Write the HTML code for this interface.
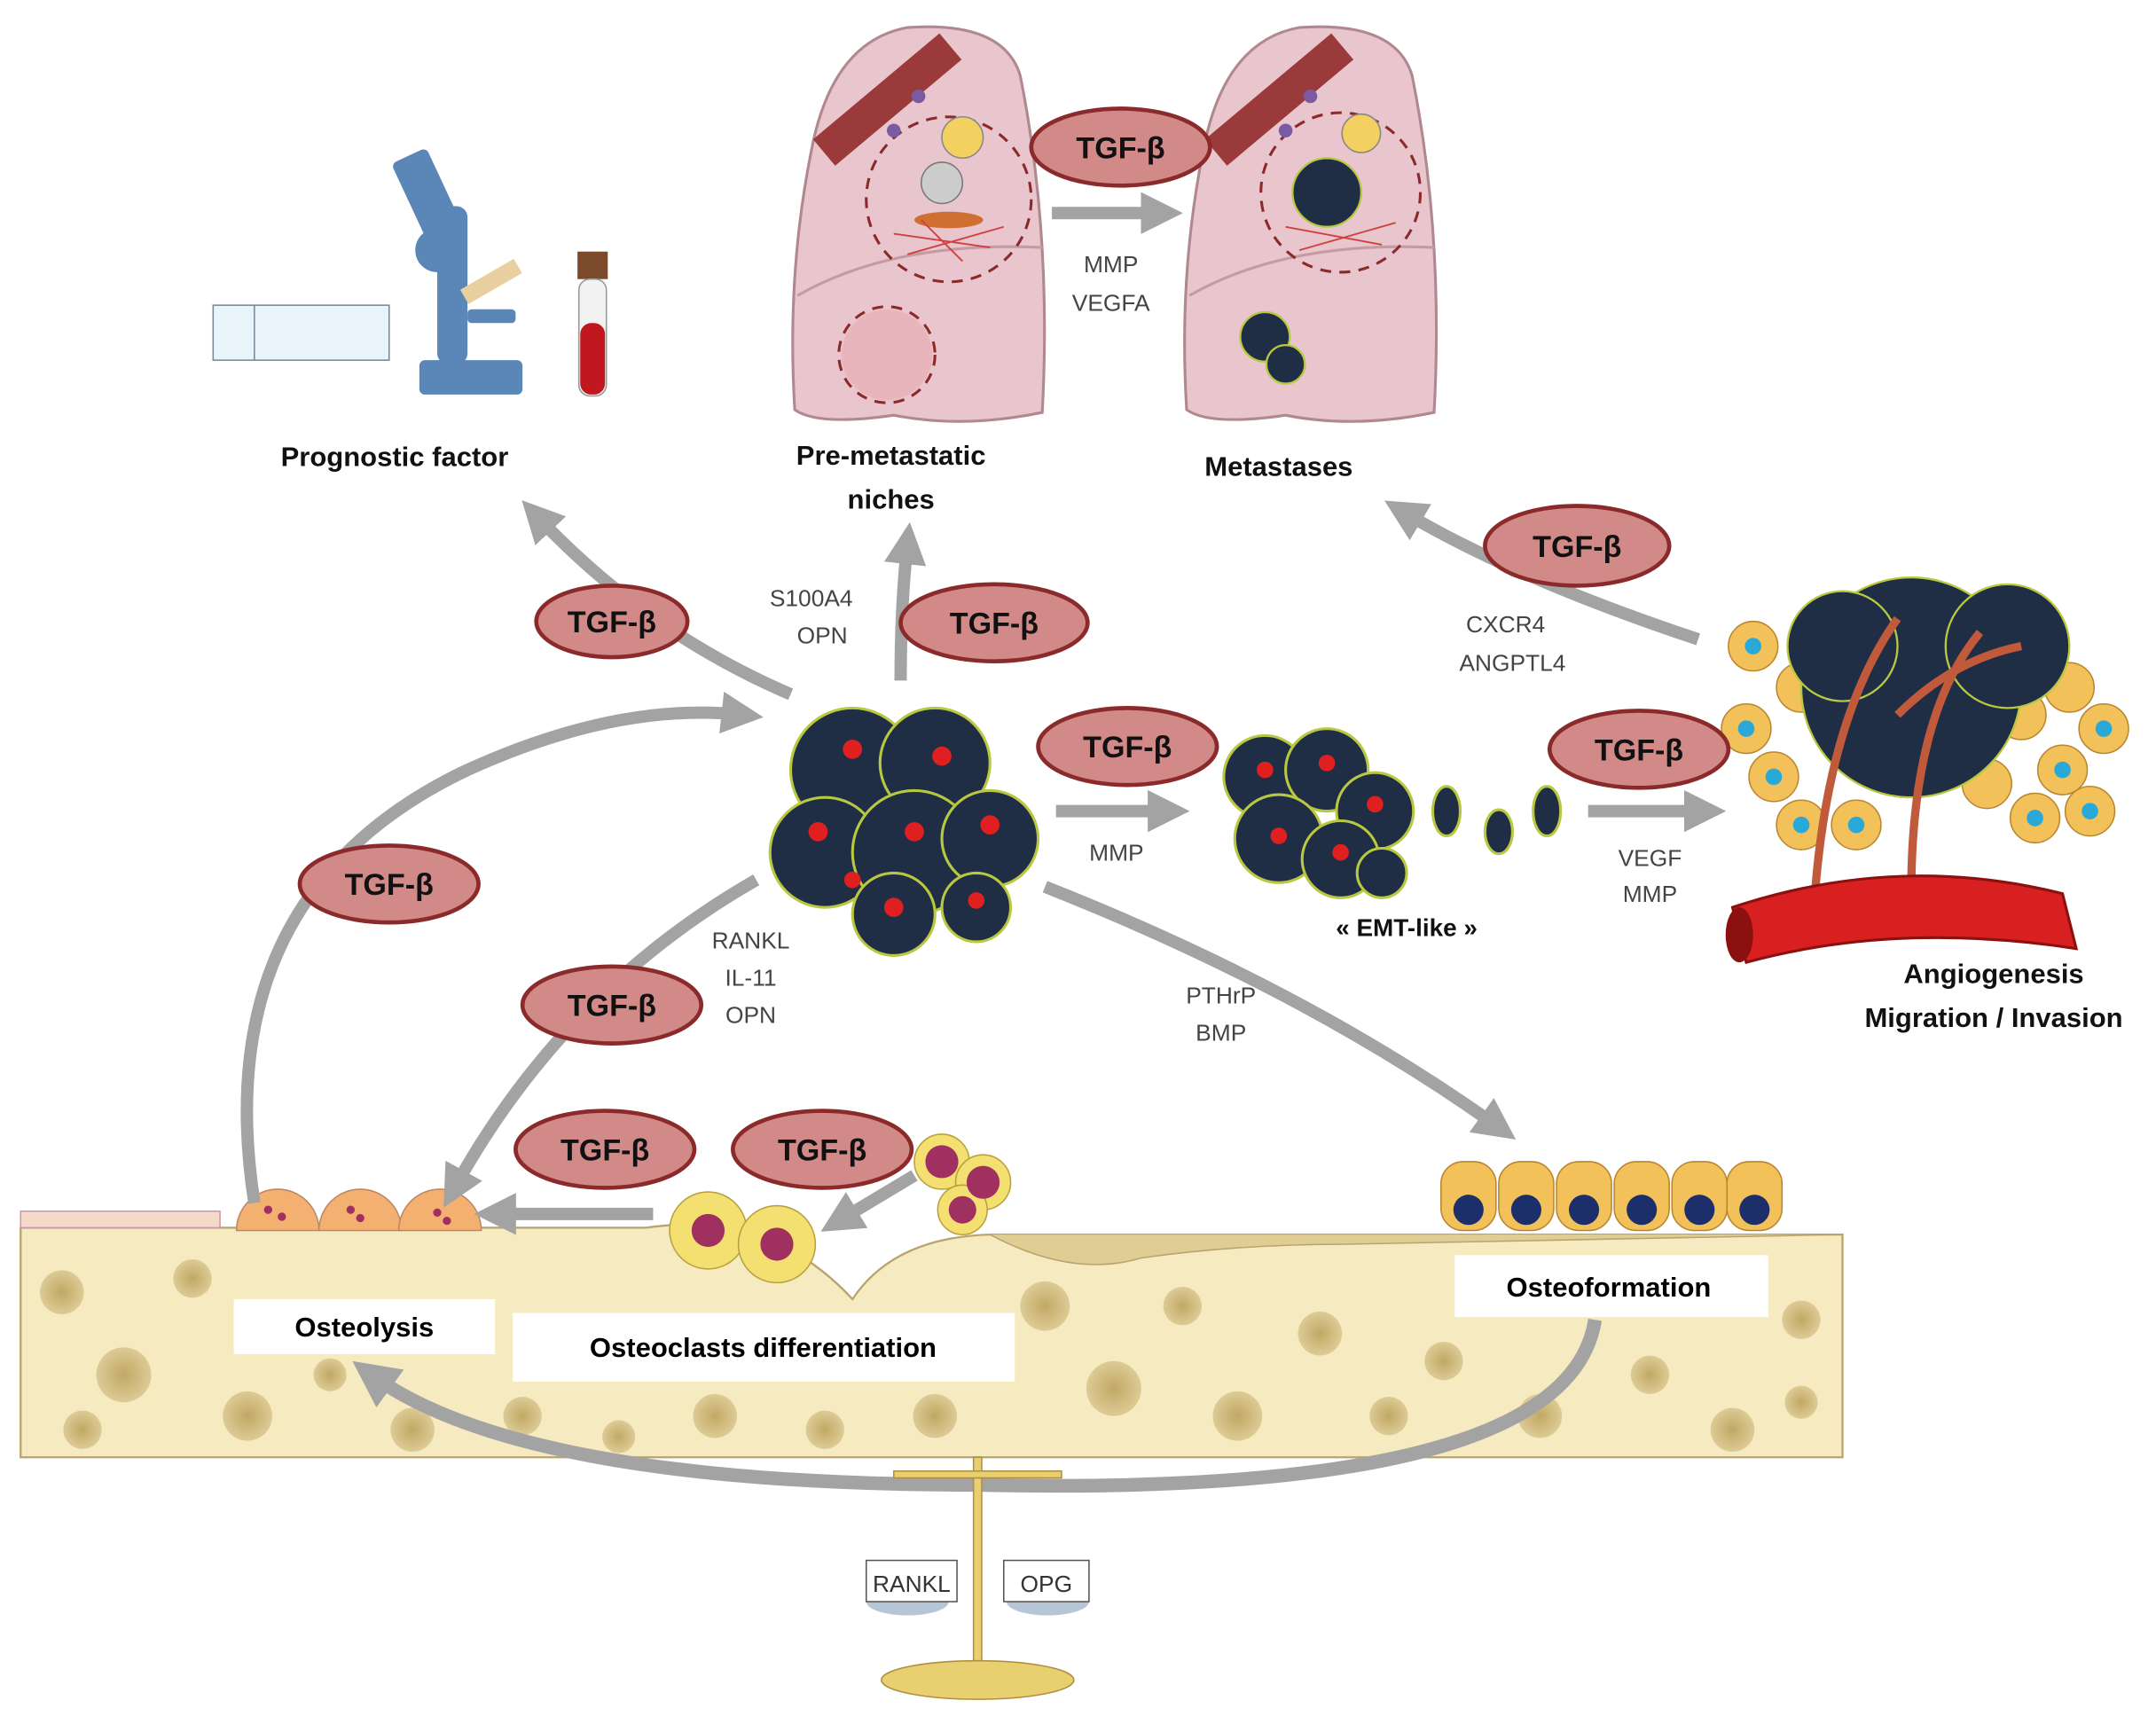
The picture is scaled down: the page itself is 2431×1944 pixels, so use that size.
<!DOCTYPE html>
<html><head><meta charset="utf-8"><style>html,body{margin:0;padding:0;background:#fff}svg{display:block}</style></head>
<body>
<svg width="2431" height="1944" viewBox="0 0 1568 1254" preserveAspectRatio="none" xmlns="http://www.w3.org/2000/svg" font-family="Liberation Sans, sans-serif">
<defs>
<marker id="ah" viewBox="0 0 10 10" refX="5" refY="5" markerWidth="3.4" markerHeight="3.4" orient="auto"><path d="M0,0L10,5L0,10z" fill="#a3a3a3"/></marker>
<radialGradient id="spot"><stop offset="0" stop-color="#b89c55"/><stop offset="1" stop-color="#d9c68e"/></radialGradient>
</defs>
<!-- bone -->
<path d="M15,893 L470,893 Q560,880 620,945 Q650,900 720,898 L1340,898 L1340,1060 L15,1060 Z" fill="#f6ebc0" stroke="#b9a470" stroke-width="1.5"/>
<path d="M720,898 Q780,930 830,915 Q900,905 980,905 L1340,898" fill="#e0cd93" stroke="#b9a470"/>
<g fill="url(#spot)" opacity="0.85">
<circle cx="45" cy="940" r="16"/><circle cx="90" cy="1000" r="20"/><circle cx="140" cy="930" r="14"/><circle cx="60" cy="1040" r="14"/><circle cx="180" cy="1030" r="18"/><circle cx="240" cy="1000" r="12"/><circle cx="300" cy="1040" r="16"/><circle cx="380" cy="1030" r="14"/><circle cx="450" cy="1045" r="12"/><circle cx="520" cy="1030" r="16"/><circle cx="600" cy="1040" r="14"/><circle cx="680" cy="1030" r="16"/><circle cx="760" cy="950" r="18"/><circle cx="810" cy="1010" r="20"/><circle cx="860" cy="950" r="14"/><circle cx="900" cy="1030" r="18"/><circle cx="960" cy="970" r="16"/><circle cx="1010" cy="1030" r="14"/><circle cx="1050" cy="990" r="14"/><circle cx="1120" cy="1030" r="16"/><circle cx="1200" cy="1000" r="14"/><circle cx="1260" cy="1040" r="16"/><circle cx="1310" cy="960" r="14"/><circle cx="1310" cy="1020" r="12"/><circle cx="700" cy="970" r="14"/>
</g>
<rect x="15" y="881" width="145" height="12" fill="#f6d9c8" stroke="#c9a" />
<!-- osteoclasts -->
<g fill="#f4b070" stroke="#b86"><path d="M172,895 A30,30 0 0 1 232,895Z"/><path d="M232,895 A30,30 0 0 1 292,895Z"/><path d="M290,895 A30,30 0 0 1 350,895Z"/></g>
<g fill="#a03060"><circle cx="195" cy="880" r="3"/><circle cx="205" cy="885" r="3"/><circle cx="255" cy="880" r="3"/><circle cx="262" cy="886" r="3"/><circle cx="318" cy="882" r="3"/><circle cx="325" cy="888" r="3"/></g>
<g fill="#f3e070" stroke="#b9a040"><circle cx="515" cy="895" r="28"/><circle cx="565" cy="905" r="28"/><circle cx="685" cy="845" r="20"/><circle cx="715" cy="860" r="20"/><circle cx="700" cy="880" r="18"/></g>
<g fill="#a03060"><circle cx="685" cy="845" r="12"/><circle cx="715" cy="860" r="12"/><circle cx="700" cy="880" r="10"/><circle cx="515" cy="895" r="12"/><circle cx="565" cy="905" r="12"/></g>
<!-- osteoblasts -->
<g fill="#f3c15a" stroke="#b98630">
<rect x="1048" y="845" width="40" height="50" rx="16"/><rect x="1090" y="845" width="40" height="50" rx="16"/><rect x="1132" y="845" width="40" height="50" rx="16"/><rect x="1174" y="845" width="40" height="50" rx="16"/><rect x="1216" y="845" width="40" height="50" rx="16"/><rect x="1256" y="845" width="40" height="50" rx="16"/></g>
<g fill="#1d2f6a"><circle cx="1068" cy="880" r="11"/><circle cx="1110" cy="880" r="11"/><circle cx="1152" cy="880" r="11"/><circle cx="1194" cy="880" r="11"/><circle cx="1236" cy="880" r="11"/><circle cx="1276" cy="880" r="11"/></g>
<!-- labels boxes -->
<rect x="170" y="945" width="190" height="40" fill="#fff"/><text x="265" y="972" font-size="20" font-weight="bold" text-anchor="middle">Osteolysis</text>
<rect x="373" y="955" width="365" height="50" fill="#fff"/><text x="555" y="987" font-size="20" font-weight="bold" text-anchor="middle">Osteoclasts differentiation</text>
<rect x="1058" y="913" width="228" height="45" fill="#fff"/><text x="1170" y="943" font-size="20" font-weight="bold" text-anchor="middle">Osteoformation</text>
<!-- bottom curved arrow -->
<path d="M1160,960 Q1140,1090 710,1080 Q380,1080 270,1000" fill="none" stroke="#a3a3a3" stroke-width="10" marker-end="url(#ah)"/>
<!-- scales -->
<g stroke="#b09040" fill="#e8d070"><rect x="708" y="1060" width="6" height="150"/><ellipse cx="711" cy="1222" rx="70" ry="14"/><rect x="650" y="1070" width="122" height="5"/></g>
<g fill="#b7c6d6"><ellipse cx="660" cy="1165" rx="30" ry="10"/><ellipse cx="762" cy="1165" rx="30" ry="10"/></g>
<rect x="630" y="1135" width="66" height="30" fill="#fff" stroke="#555"/><text x="663" y="1158" font-size="17" text-anchor="middle" fill="#333">RANKL</text>
<rect x="730" y="1135" width="62" height="30" fill="#fff" stroke="#555"/><text x="761" y="1158" font-size="17" text-anchor="middle" fill="#333">OPG</text>
<!-- lungs -->
<g fill="#e9c5cd" stroke="#b08890" stroke-width="2">
<path d="M660,20 Q730,15 742,55 Q765,170 758,300 Q700,312 650,302 Q595,310 578,298 Q572,200 590,110 Q605,30 660,20Z"/>
<path d="M945,20 Q1015,15 1027,55 Q1050,170 1043,300 Q985,312 935,302 Q880,310 863,298 Q857,200 875,110 Q890,30 945,20Z"/>
</g>
<g fill="none" stroke="#c49aa3" stroke-width="2"><path d="M580,215 Q650,175 758,180"/><path d="M865,215 Q935,175 1043,180"/></g>
<g fill="none" stroke="#8b2a2a" stroke-width="2" stroke-dasharray="8,6"><circle cx="690" cy="145" r="60"/><circle cx="645" cy="258" r="35"/><circle cx="975" cy="140" r="58"/></g>
<circle cx="645" cy="258" r="33" fill="#e8aab0" opacity=".6"/>
<g fill="#9b3a3a"><rect x="585" y="60" width="120" height="25" transform="rotate(-40 645 72)"/><rect x="870" y="60" width="120" height="25" transform="rotate(-40 930 72)"/></g>
<g fill="#7a5aa0"><circle cx="650" cy="95" r="5"/><circle cx="668" cy="70" r="5"/><circle cx="935" cy="95" r="5"/><circle cx="953" cy="70" r="5"/></g>
<circle cx="700" cy="100" r="15" fill="#f3d060" stroke="#888"/><circle cx="685" cy="133" r="15" fill="#ccc" stroke="#777"/>
<ellipse cx="690" cy="160" rx="25" ry="6" fill="#d07030"/>
<g fill="none" stroke="#d04040" stroke-width="1.2"><path d="M650,170 L720,180 M660,185 L730,165 M670,160 L700,190"/><path d="M935,165 L1005,178 M945,182 L1015,162"/></g>
<circle cx="990" cy="97" r="14" fill="#f3d060" stroke="#888"/>
<g fill="#1f2e45" stroke="#b8c840" stroke-width="1.5"><circle cx="965" cy="140" r="25"/><circle cx="920" cy="245" r="18"/><circle cx="935" cy="265" r="14"/></g>
<!-- prognostic -->
<rect x="155" y="222" width="128" height="40" fill="#e8f4fa" stroke="#789"/>
<line x1="185" y1="222" x2="185" y2="262" stroke="#789"/>
<g fill="#5a86b8"><rect x="305" y="262" width="75" height="25" rx="4"/><rect x="318" y="150" width="22" height="115" rx="8"/><circle cx="318" cy="182" r="16"/><rect x="298" y="110" width="28" height="70" rx="4" transform="rotate(-25 312 145)"/><rect x="340" y="225" width="35" height="10" rx="3"/></g>
<rect x="335" y="200" width="45" height="12" fill="#e8d0a0" transform="rotate(-30 355 206)"/>
<rect x="420" y="183" width="22" height="20" fill="#7a4a2a"/><rect x="421" y="203" width="20" height="85" rx="8" fill="#f2f2f2" stroke="#999"/><rect x="422" y="235" width="18" height="52" rx="8" fill="#c0181e"/>
<!-- tumor cluster -->
<g fill="#1f2e45" stroke="#b8c840" stroke-width="2">
<circle cx="620" cy="560" r="45"/><circle cx="680" cy="555" r="40"/><circle cx="600" cy="620" r="40"/><circle cx="665" cy="620" r="45"/><circle cx="720" cy="610" r="35"/><circle cx="650" cy="665" r="30"/><circle cx="710" cy="660" r="25"/>
<circle cx="920" cy="565" r="30"/><circle cx="965" cy="560" r="30"/><circle cx="1000" cy="590" r="28"/><circle cx="930" cy="610" r="32"/><circle cx="975" cy="625" r="28"/><circle cx="1005" cy="635" r="18"/>
<ellipse cx="1052" cy="590" rx="10" ry="18"/><ellipse cx="1090" cy="605" rx="10" ry="16"/><ellipse cx="1125" cy="590" rx="10" ry="18"/>
</g>
<g fill="#e02020"><circle cx="620" cy="545" r="7"/><circle cx="685" cy="550" r="7"/><circle cx="595" cy="605" r="7"/><circle cx="665" cy="605" r="7"/><circle cx="720" cy="600" r="7"/><circle cx="650" cy="660" r="7"/><circle cx="710" cy="655" r="6"/><circle cx="620" cy="640" r="6"/>
<circle cx="920" cy="560" r="6"/><circle cx="965" cy="555" r="6"/><circle cx="1000" cy="585" r="6"/><circle cx="930" cy="608" r="6"/><circle cx="975" cy="620" r="6"/></g>
<!-- angiogenesis -->
<g fill="#f3c15a" stroke="#b98630">
<circle cx="1275" cy="470" r="18"/><circle cx="1310" cy="500" r="18"/><circle cx="1270" cy="530" r="18"/><circle cx="1290" cy="565" r="18"/><circle cx="1310" cy="600" r="18"/><circle cx="1470" cy="520" r="18"/><circle cx="1505" cy="500" r="18"/><circle cx="1500" cy="560" r="18"/><circle cx="1530" cy="530" r="18"/><circle cx="1480" cy="595" r="18"/><circle cx="1445" cy="570" r="18"/><circle cx="1350" cy="600" r="18"/><circle cx="1520" cy="590" r="18"/></g>
<g fill="#2aa8d8"><circle cx="1275" cy="470" r="6"/><circle cx="1270" cy="530" r="6"/><circle cx="1290" cy="565" r="6"/><circle cx="1310" cy="600" r="6"/><circle cx="1530" cy="530" r="6"/><circle cx="1500" cy="560" r="6"/><circle cx="1480" cy="595" r="6"/><circle cx="1520" cy="590" r="6"/><circle cx="1350" cy="600" r="6"/></g>
<g fill="#1f2e45" stroke="#b8c840" stroke-width="1.5"><circle cx="1390" cy="500" r="80"/><circle cx="1340" cy="470" r="40"/><circle cx="1460" cy="470" r="45"/></g>
<g fill="none" stroke="#c05a3a" stroke-width="6"><path d="M1320,650 Q1330,520 1380,450"/><path d="M1390,650 Q1390,520 1440,460"/><path d="M1380,520 Q1420,480 1470,470"/></g>
<path d="M1260,660 Q1380,620 1500,650 L1510,690 Q1380,670 1270,700Z" fill="#d82020" stroke="#8b1010" stroke-width="2"/>
<ellipse cx="1265" cy="680" rx="10" ry="20" fill="#8b1010"/>
<!-- gray arrows -->
<g fill="none" stroke="#a3a3a3" stroke-width="9" marker-end="url(#ah)">
<path d="M575,505 Q470,460 390,375"/>
<path d="M655,495 Q655,440 660,395"/>
<path d="M1235,465 Q1100,420 1020,372"/>
<path d="M765,155 L845,155"/>
<path d="M768,590 L850,590"/>
<path d="M1155,590 L1240,590"/>
<path d="M185,875 Q150,650 340,560 Q450,510 540,520"/>
<path d="M550,640 Q410,720 330,865"/>
<path d="M760,645 Q950,720 1090,820"/>
<path d="M475,883 L360,883"/>
<path d="M665,855 L610,888"/>
</g>
<!-- TGF ellipses -->
<g fill="#d28a88" stroke="#8b2a2a" stroke-width="3">
<ellipse cx="815" cy="107" rx="65" ry="28"/><ellipse cx="445" cy="452" rx="55" ry="26"/><ellipse cx="723" cy="453" rx="68" ry="28"/><ellipse cx="1147" cy="397" rx="67" ry="29"/><ellipse cx="283" cy="643" rx="65" ry="28"/><ellipse cx="820" cy="543" rx="65" ry="28"/><ellipse cx="1192" cy="545" rx="65" ry="28"/><ellipse cx="445" cy="731" rx="65" ry="28"/><ellipse cx="440" cy="836" rx="65" ry="28"/><ellipse cx="598" cy="836" rx="65" ry="28"/>
</g>
<g font-size="22" font-weight="bold" text-anchor="middle" fill="#111">
<text x="815" y="115">TGF-β</text><text x="445" y="460">TGF-β</text><text x="723" y="461">TGF-β</text><text x="1147" y="405">TGF-β</text><text x="283" y="651">TGF-β</text><text x="820" y="551">TGF-β</text><text x="1192" y="553">TGF-β</text><text x="445" y="739">TGF-β</text><text x="440" y="844">TGF-β</text><text x="598" y="844">TGF-β</text>
</g>
<!-- titles -->
<g font-size="20" font-weight="bold" text-anchor="middle" fill="#111">
<text x="287" y="339">Prognostic factor</text>
<text x="648" y="338">Pre-metastatic</text><text x="648" y="370">niches</text>
<text x="930" y="346">Metastases</text>
<text x="1450" y="715">Angiogenesis</text><text x="1450" y="747">Migration / Invasion</text>
<text x="1023" y="681" font-size="18">« EMT-like »</text>
</g>
<g font-size="17" fill="#444" text-anchor="middle">
<text x="808" y="198">MMP</text><text x="808" y="226">VEGFA</text>
<text x="590" y="441">S100A4</text><text x="598" y="468">OPN</text>
<text x="1095" y="460">CXCR4</text><text x="1100" y="488">ANGPTL4</text>
<text x="812" y="626">MMP</text>
<text x="1200" y="630">VEGF</text><text x="1200" y="656">MMP</text>
<text x="546" y="690">RANKL</text><text x="546" y="717">IL-11</text><text x="546" y="744">OPN</text>
<text x="888" y="730">PTHrP</text><text x="888" y="757">BMP</text>
</g>
</svg>
</body></html>
